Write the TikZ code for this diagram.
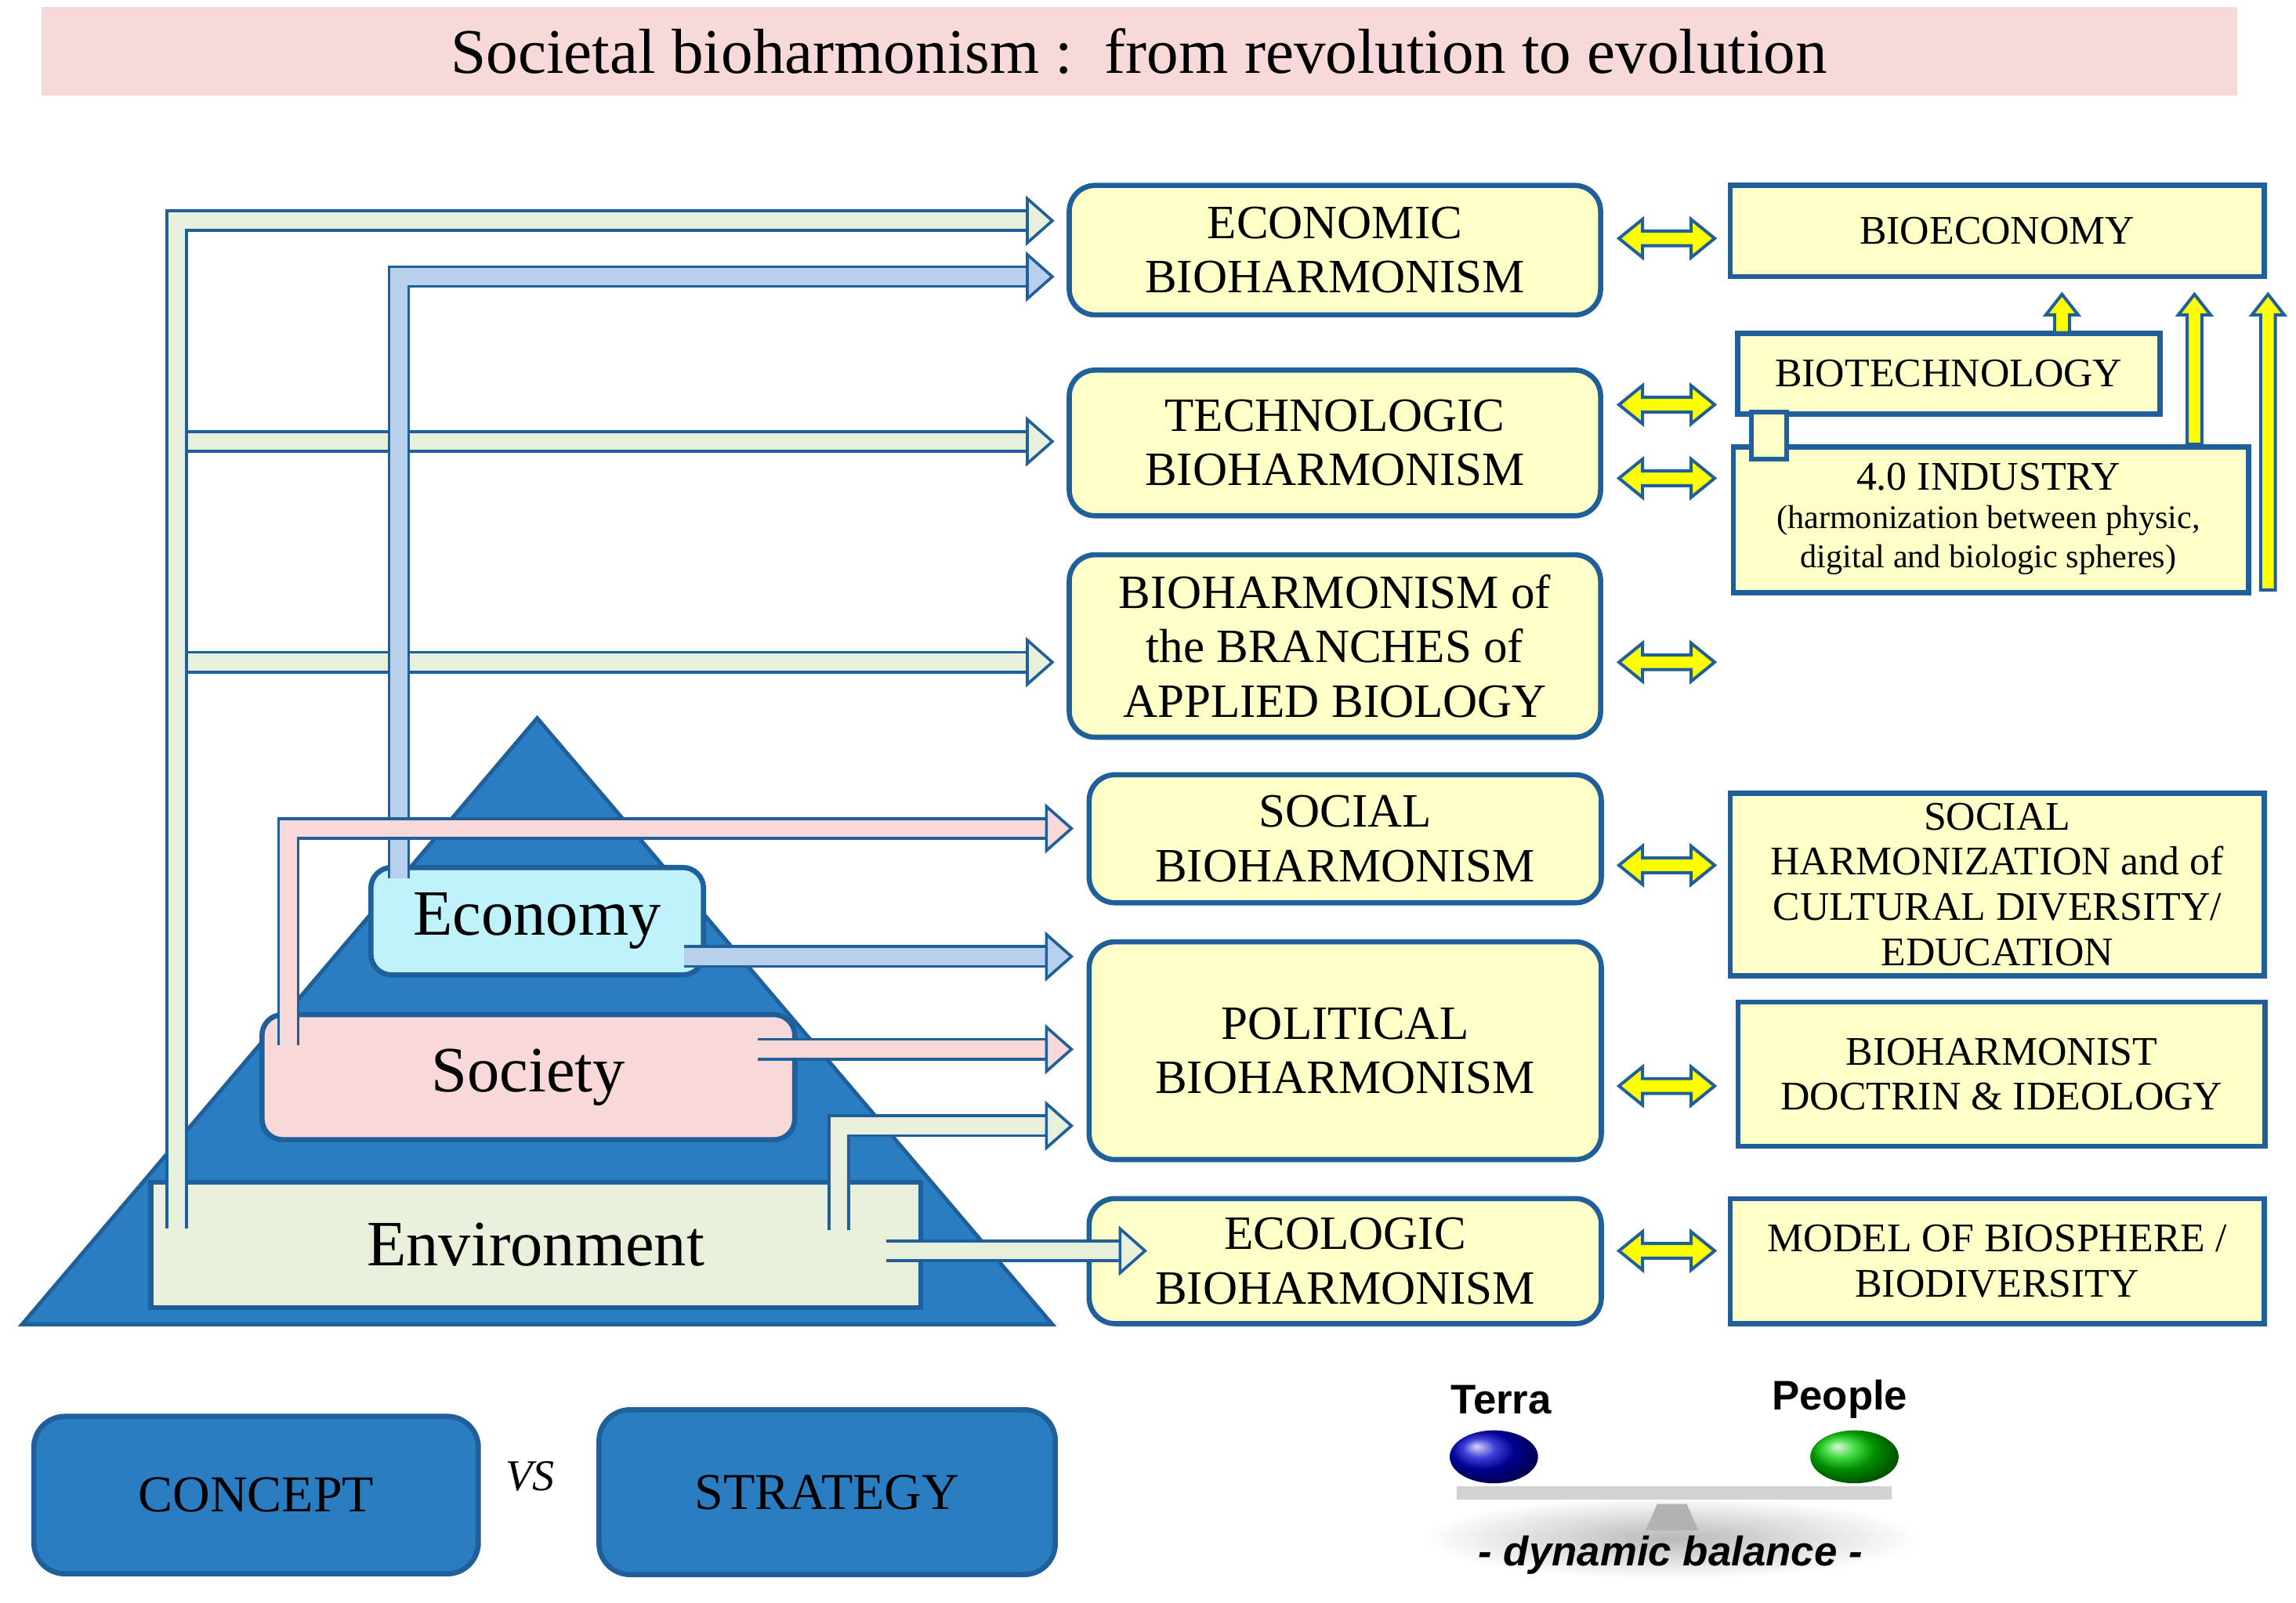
\documentclass[tikz,border=0pt]{standalone}
\usepackage{fontspec}
\setmainfont{Liberation Serif}
\newfontfamily\sansb{Liberation Sans}
\usetikzlibrary{shapes.geometric}
\definecolor{bord}{HTML}{1F5F9A}
\definecolor{pyr}{HTML}{2A7DC0}
\definecolor{ylw}{HTML}{FFFFC8}
\definecolor{yarr}{HTML}{FFFF00}
\definecolor{envc}{HTML}{E8F0DC}
\definecolor{ecoc}{HTML}{BFF2FA}
\definecolor{socc}{HTML}{F8D8D8}
\definecolor{ecoa}{HTML}{B8D0EC}
\definecolor{titc}{HTML}{F8D9DA}
\tikzset{
 lbox/.style={draw=bord,line width=2pt,fill=ylw,rounded corners=10pt,align=center,font=\fontsize{18.5}{21}\selectfont},
 rbox/.style={draw=bord,line width=2pt,fill=ylw,align=center,font=\fontsize{15.7}{17.5}\selectfont},
 hollow/.style={draw=bord,double=#1,double distance=6.5pt,line width=1.1pt},
 dbox/.style={draw=bord,line width=2pt,fill=pyr,rounded corners=12pt,font=\fontsize{20}{24}\selectfont},
}
\newcommand{\hhead}[3]{\filldraw[fill=#1,draw=bord,line width=1.1pt] (#2-17,#3-15) -- (#2,#3) -- (#2-17,#3+15) -- cycle;}
\newcommand{\ydarrow}[3]{\filldraw[fill=yarr,draw=bord,line width=1.2pt] (#1,#3) -- (#1+16,#3-13) -- (#1+16,#3-5) -- (#2-16,#3-5) -- (#2-16,#3-13) -- (#2,#3) -- (#2-16,#3+13) -- (#2-16,#3+5) -- (#1+16,#3+5) -- (#1+16,#3+13) -- cycle;}
\newcommand{\yuarrow}[3]{\filldraw[fill=yarr,draw=bord,line width=1.2pt] (#1,#3) -- (#1+11,#3+14) -- (#1+5,#3+14) -- (#1+5,#2) -- (#1-5,#2) -- (#1-5,#3+14) -- (#1-11,#3+14) -- cycle;}
\begin{document}
\begin{tikzpicture}[x=0.02cm,y=-0.02cm]
\useasboundingbox (0,0) rectangle (1560,1089);
\fill[white] (0,0) rectangle (1560,1089);
% title
\node[fill=titc,minimum width=1492*0.02cm,minimum height=60*0.02cm,font=\fontsize{24.6}{28}\selectfont] (title) at (774,35) {Societal bioharmonism :\ \ from revolution to evolution};
% pyramid
\filldraw[fill=pyr,draw=bord,line width=1.5pt] (15,900) -- (365,488) -- (715,900) -- cycle;
\node[draw=bord,line width=2pt,fill=ecoc,rounded corners=8pt,minimum width=226*0.02cm,minimum height=73*0.02cm,font=\fontsize{25}{28}\selectfont] (economy) at (365,626) {Economy};
\node[draw=bord,line width=2pt,fill=socc,rounded corners=8pt,minimum width=362*0.02cm,minimum height=85*0.02cm,font=\fontsize{25}{28}\selectfont] (society) at (359,732) {Society};
\node[draw=bord,line width=2pt,fill=envc,minimum width=523*0.02cm,minimum height=85*0.02cm,font=\fontsize{25}{28}\selectfont] (env) at (364,846) {Environment};
% left column
\node[lbox,minimum width=361*0.02cm,minimum height=88*0.02cm] (econ) at (907,170) {ECONOMIC\\BIOHARMONISM};
\node[lbox,minimum width=361*0.02cm,minimum height=99*0.02cm] (tech) at (907,301) {TECHNOLOGIC\\BIOHARMONISM};
\node[lbox,minimum width=361*0.02cm,minimum height=124*0.02cm] (bran) at (907,439) {BIOHARMONISM of\\the BRANCHES of\\APPLIED BIOLOGY};
\node[lbox,minimum width=348*0.02cm,minimum height=87*0.02cm] (soc) at (914,570) {SOCIAL\\BIOHARMONISM};
\node[lbox,minimum width=348*0.02cm,minimum height=148*0.02cm] (pol) at (914,714) {POLITICAL\\BIOHARMONISM};
\node[lbox,minimum width=348*0.02cm,minimum height=85*0.02cm] (ecol) at (914,857) {ECOLOGIC\\BIOHARMONISM};
% right column
\node[rbox,minimum width=363*0.02cm,minimum height=62*0.02cm] (bioec) at (1357,157) {BIOECONOMY};
\node[rbox,minimum width=350*0.02cm,minimum height=99*0.02cm,anchor=north west] (ind) at (1176,302) {};
\node[font=\fontsize{15.7}{17.5}\selectfont,align=center] at (1351,324) {4.0 INDUSTRY};
\node[font=\fontsize{12.8}{15}\selectfont,align=center] at (1351,367) {(harmonization between physic,\\digital and biologic spheres)};
\node[rbox,minimum width=287*0.02cm,minimum height=55*0.02cm] (biot) at (1324,254) {BIOTECHNOLOGY};
\node[draw=bord,line width=2pt,fill=ylw,minimum width=24*0.02cm,minimum height=32*0.02cm] (sq) at (1202,296) {};
\node[rbox,minimum width=363*0.02cm,minimum height=124*0.02cm] (sh) at (1357,601) {SOCIAL\\HARMONIZATION and of\\CULTURAL DIVERSITY/\\EDUCATION};
\node[rbox,minimum width=358*0.02cm,minimum height=98*0.02cm] (bd) at (1360,730) {BIOHARMONIST\\DOCTRIN \& IDEOLOGY};
\node[rbox,minimum width=363*0.02cm,minimum height=85*0.02cm] (mb) at (1357,857) {MODEL OF BIOSPHERE /\\BIODIVERSITY};
% yellow arrows
\ydarrow{1100}{1165}{162}
\ydarrow{1100}{1165}{275}
\ydarrow{1100}{1165}{325}
\ydarrow{1100}{1165}{450}
\ydarrow{1100}{1165}{588}
\ydarrow{1100}{1165}{738}
\ydarrow{1100}{1165}{850}
\yuarrow{1401}{226}{200}
\yuarrow{1491}{302}{200}
\yuarrow{1541}{401}{200}
% hollow arrows: environment
\draw[hollow=envc] (127,300) -- (699,300); \hhead{envc}{715}{300}
\draw[hollow=envc] (127,450) -- (699,450); \hhead{envc}{715}{450}
\draw[hollow=envc,line join=miter] (120,835) -- (120,150) -- (699,150); \hhead{envc}{715}{150}
% economy
\draw[hollow=ecoa,line join=miter] (271,597) -- (271,188) -- (699,188); \hhead{ecoa}{715}{188}
% society
\draw[hollow=socc,line join=miter] (196,710) -- (196,563) -- (712,563); \hhead{socc}{728}{563}
\draw[hollow=ecoa] (465,650) -- (712,650); \hhead{ecoa}{728}{650}
\draw[hollow=socc] (515,713) -- (712,713); \hhead{socc}{728}{713}
\draw[hollow=envc,line join=miter] (570,836) -- (570,765) -- (712,765); \hhead{envc}{728}{765}
\draw[hollow=envc] (602,850) -- (762,850); \hhead{envc}{778}{850}
% bottom
\node[dbox,minimum width=302*0.02cm,minimum height=107*0.02cm] (concept) at (174,1016) {CONCEPT};
\node[dbox,minimum width=310*0.02cm,minimum height=112*0.02cm] (strategy) at (562,1014) {STRATEGY};
\node[font=\fontsize{17}{20}\selectfont\itshape] (vs) at (360,1003) {VS};
% balance
\shade[inner color=gray!55,outer color=white] (1135,1045) ellipse (170 and 28);
\fill[gray!60] (1118,1040) -- (1126,1022) -- (1146,1022) -- (1154,1040) -- cycle;
\fill[gray!35] (990,1010) rectangle (1285,1019);
\shade[ball color=blue!80!black] (1015,990) ellipse (30 and 18);
\shade[ball color=green!80!black] (1260,990) ellipse (30 and 18);
\node[font=\sansb\bfseries\fontsize{16}{18}\selectfont] (terra) at (1020,951) {Terra};
\node[font=\sansb\bfseries\fontsize{16}{18}\selectfont] (people) at (1250,951) {People};
\node[font=\sansb\bfseries\itshape\fontsize{16}{18}\selectfont] (dyn) at (1135,1057) {- dynamic balance -};
\end{tikzpicture}
\end{document}
